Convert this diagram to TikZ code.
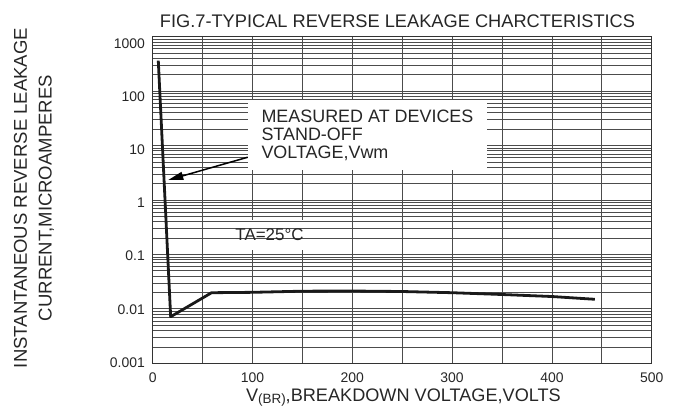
\documentclass[tikz,border=0pt]{standalone}
\usepackage{fontspec}
\setmainfont{Liberation Sans}
\usetikzlibrary{arrows.meta, positioning}

\begin{document}
\begin{tikzpicture}[x=1bp, y=1bp,
  grid/.style={draw=black!70, line width=0.8bp},
  frame/.style={draw=black!80, line width=1.4bp},
  curve/.style={draw=black!90, line width=2.8bp, line join=round},
  tick/.style={font=\fontsize{14}{16}\selectfont, text=black!85, inner sep=0pt},
  caption/.style={font=\fontsize{18}{18}\selectfont, text=black!85, inner sep=0pt}]
\useasboundingbox (0,0) rectangle (680,418);

% title and axis captions
\node[caption, font=\fontsize{18.3}{20}\selectfont] (title) at (397.5,396.3) {FIG.7-TYPICAL REVERSE LEAKAGE CHARCTERISTICS};
\node[caption, font=\fontsize{18.6}{25}\selectfont, rotate=90, align=center] (ylabel) at (34,220) {INSTANTANEOUS REVERSE LEAKAGE\\CURRENT,MICROAMPERES};
\node[caption, font=\fontsize{18.2}{20}\selectfont] (xlabel) at (403.4,20) {V{\fontsize{13.5}{14}\selectfont\raisebox{-2bp}{(BR)}},BREAKDOWN VOLTAGE,VOLTS};

\begin{scope}[shift={(152.7,54.7)}, x=0.998bp, y=54.43bp]
% grid
\foreach \v in {50,100,...,450}
  \draw[grid] (\v,0) -- (\v,6);
\node[tick, fill=white, minimum width=76bp, minimum height=30bp] (ta) at (117,2.357) {};
\foreach \d in {0,...,5}
  \foreach \m in {2,...,10}
    \draw[grid] (0,{\d+log10(\m)}) -- (500,{\d+log10(\m)});
\draw[frame] (0,0) rectangle (500,6);
\node[caption, font=\fontsize{17}{18}\selectfont] (talabel) at (ta) {TA=25\textdegree C};

% note box
\node[caption, fill=white, minimum width=239bp, minimum height=70bp, align=left] (note) at (215.2,4.194)
  {MEASURED AT DEVICES\\STAND-OFF\\VOLTAGE,Vwm};
\coordinate (tip) at (15.6,3.368);
\draw[line width=1.5bp, -{Triangle[length=15bp, width=8bp]}] ([yshift=13bp]note.south west) -- (tip);

% leakage curve
\draw[curve] (5.6,5.56) -- (18,0.856) -- (59,1.297) -- (100,1.304) -- (150,1.325) -- (200,1.328)
  -- (250,1.319) -- (300,1.297) -- (350,1.264) -- (400,1.227) -- (443,1.176);

% tick labels
\foreach \d/\t in {0/0.001, 1/0.01, 2/0.1, 3/1, 4/10, 5/100, 6/1000}
  \node[tick, anchor=east] (y\d) at (-7.7,{0.02+0.974*\d}) {\t};
\foreach \v in {0,100,...,500}
  \node[tick] (x\v) at (\v,-0.27) {\v};
\end{scope}
\end{tikzpicture}
\end{document}
